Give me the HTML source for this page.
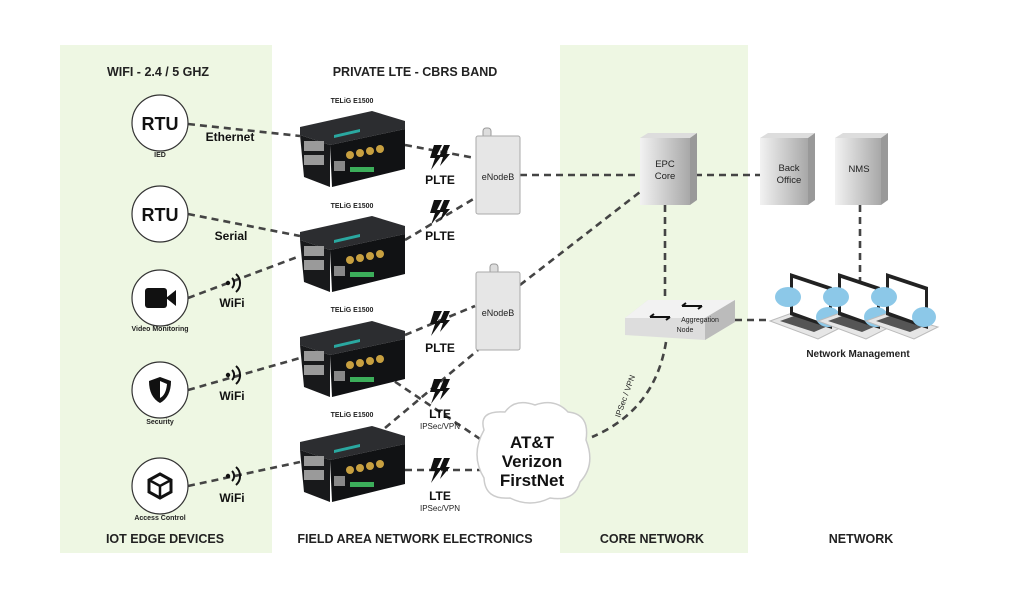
<!DOCTYPE html>
<html><head><meta charset="utf-8"><style>
body{margin:0;background:#fff}
svg{display:block;font-family:"Liberation Sans",sans-serif}
.h{font-size:12.5px;font-weight:bold;fill:#222;text-anchor:middle}
.s{font-size:7px;fill:#222;text-anchor:middle;font-weight:bold}
.l{font-size:12px;font-weight:bold;fill:#111;text-anchor:middle}
.d{stroke:#444;stroke-width:2.6;stroke-dasharray:7 5;fill:none}
</style></head><body>
<svg width="1024" height="606" viewBox="0 0 1024 606">
<defs>
<linearGradient id="srv" x1="0" x2="1"><stop offset="0" stop-color="#f2f2f2"/><stop offset="1" stop-color="#a8a8a8"/></linearGradient>
<g id="router">
<polygon points="0,22 72,6 105,16 105,24 30,40 0,30" fill="#2c2d30"/>
<polygon points="0,30 30,40 30,82 4,72" fill="#18191b"/>
<polygon points="30,40 105,24 105,64 32,82" fill="#111214"/>
<rect x="4" y="36" width="20" height="10" fill="#9a9a9a"/><rect x="4" y="50" width="20" height="10" fill="#9a9a9a"/>
<rect x="34" y="56" width="11" height="10" fill="#888"/>
<circle cx="50" cy="50" r="4" fill="#c8a040"/><circle cx="60" cy="48" r="4" fill="#c8a040"/><circle cx="70" cy="46" r="4" fill="#c8a040"/><circle cx="80" cy="44" r="4" fill="#c8a040"/>
<rect x="50" y="62" width="24" height="5" fill="#3cae5a"/>
<polygon points="34,30 60,24 60,27 34,33" fill="#2aa8a0"/>
</g>
<g id="bolt"><polygon points="-4,-12 4,-12 -1,-2 4,-2 -7,13 -3,1 -8,1" fill="#111"/><polygon points="6,-12 12,-12 8,-3 12,-3 2,9 5,0 1,0" fill="#111"/></g>
<g id="wifi"><circle cx="0" cy="0" r="2.2" fill="#111"/><path d="M4,-5 A7,7 0 0 1 4,5" stroke="#111" stroke-width="2" fill="none"/><path d="M8,-9 A12,12 0 0 1 8,9" stroke="#111" stroke-width="2" fill="none"/></g>
<g id="laptop">
<polygon points="0,48 22,40 72,54 48,66" fill="#e6e6e6" stroke="#bbb"/>
<polygon points="10,48 24,43 58,53 44,59" fill="#555"/>
<polygon points="20,0 62,14 62,56 20,42" fill="#222"/>
<polygon points="23,5 59,17 59,52 23,39" fill="#fff"/>
<ellipse cx="18" cy="24" rx="13" ry="10" fill="#8cc8e8"/><ellipse cx="58" cy="44" rx="12" ry="10" fill="#8cc8e8"/>
</g>
</defs>
<rect x="60" y="45" width="212" height="508" fill="#eef7e3"/>
<rect x="560" y="45" width="188" height="508" fill="#eef7e3"/>

<line class="d" x1="188" y1="124" x2="300" y2="136"/>
<line class="d" x1="188" y1="214" x2="300" y2="236"/>
<line class="d" x1="188" y1="298" x2="300" y2="256"/>
<line class="d" x1="188" y1="390" x2="300" y2="358"/>
<line class="d" x1="188" y1="486" x2="300" y2="462"/>
<line class="d" x1="405" y1="145" x2="475" y2="158"/>
<line class="d" x1="405" y1="240" x2="475" y2="198"/>
<line class="d" x1="405" y1="335" x2="475" y2="306"/>
<line class="d" x1="385" y1="375" x2="492" y2="447"/>
<line class="d" x1="385" y1="428" x2="478" y2="350"/>
<line class="d" x1="405" y1="470" x2="480" y2="470"/>
<line class="d" x1="520" y1="175" x2="640" y2="175"/>
<line class="d" x1="520" y1="285" x2="640" y2="192"/>
<line class="d" x1="695" y1="175" x2="760" y2="175"/>
<line class="d" x1="665" y1="205" x2="665" y2="300"/>
<line class="d" x1="860" y1="205" x2="860" y2="288"/>
<line class="d" x1="735" y1="320" x2="770" y2="320"/>
<path class="d" d="M666,342 Q655,410 592,437"/>

<text class="h" x="158" y="76">WIFI - 2.4 / 5 GHZ</text>
<text class="h" x="415" y="76">PRIVATE LTE - CBRS BAND</text>
<text class="h" x="165" y="543">IOT EDGE DEVICES</text>
<text class="h" x="415" y="543">FIELD AREA NETWORK ELECTRONICS</text>
<text class="h" x="652" y="543">CORE NETWORK</text>
<text class="h" x="861" y="543">NETWORK</text>

<g fill="#fff" stroke="#333" stroke-width="1.2">
<circle cx="160" cy="123" r="28"/><circle cx="160" cy="214" r="28"/><circle cx="160" cy="298" r="28"/><circle cx="160" cy="390" r="28"/><circle cx="160" cy="486" r="28"/>
</g>
<text x="160" y="130" font-size="18" font-weight="bold" text-anchor="middle" fill="#111">RTU</text>
<text x="160" y="221" font-size="18" font-weight="bold" text-anchor="middle" fill="#111">RTU</text>
<text class="s" x="160" y="157">IED</text>
<text class="s" x="160" y="331">Video Monitoring</text>
<text class="s" x="160" y="424">Security</text>
<text class="s" x="160" y="520">Access Control</text>
<rect x="145" y="288" width="22" height="20" rx="3" fill="#111"/><polygon points="166,298 176,290 176,306" fill="#111"/>
<path d="M160,377 L171,381 Q171,397 160,403 Q149,397 149,381 Z" fill="#111"/><path d="M160,381 L167,384 Q166,395 160,398 Z" fill="#fff"/>
<path d="M160,474 L171,480 L171,492 L160,498 L149,492 L149,480 Z" fill="none" stroke="#111" stroke-width="3"/><path d="M149,480 L160,486 L171,480 M160,486 L160,498" stroke="#111" stroke-width="2.5" fill="none"/>

<text class="l" x="230" y="141">Ethernet</text>
<text class="l" x="231" y="240">Serial</text>
<use href="#wifi" x="228" y="283"/><text class="l" x="232" y="307" font-size="13">WiFi</text>
<use href="#wifi" x="228" y="375"/><text class="l" x="232" y="400" font-size="13">WiFi</text>
<use href="#wifi" x="228" y="476"/><text class="l" x="232" y="502" font-size="13">WiFi</text>

<text class="s" x="352" y="103">TELiG E1500</text>
<text class="s" x="352" y="208">TELiG E1500</text>
<text class="s" x="352" y="312">TELiG E1500</text>
<text class="s" x="352" y="417">TELiG E1500</text>
<use href="#router" x="300" y="105"/>
<use href="#router" x="300" y="210"/>
<use href="#router" x="300" y="315"/>
<use href="#router" x="300" y="420"/>

<use href="#bolt" x="438" y="157"/><text class="l" x="440" y="184">PLTE</text>
<use href="#bolt" x="438" y="212"/><text class="l" x="440" y="240">PLTE</text>
<use href="#bolt" x="438" y="323"/><text class="l" x="440" y="352">PLTE</text>
<use href="#bolt" x="438" y="391"/><text class="l" x="440" y="418">LTE</text><text x="440" y="429" font-size="8" text-anchor="middle" fill="#222">IPSec/VPN</text>
<use href="#bolt" x="438" y="470"/><text class="l" x="440" y="500">LTE</text><text x="440" y="511" font-size="8" text-anchor="middle" fill="#222">IPSec/VPN</text>

<g><rect x="483" y="128" width="8" height="10" rx="3" fill="#ddd" stroke="#999"/><rect x="476" y="136" width="44" height="78" rx="2" fill="#e6e6e6" stroke="#aaa"/><text x="498" y="180" font-size="9" text-anchor="middle" fill="#222">eNodeB</text></g>
<g><rect x="490" y="264" width="8" height="10" rx="3" fill="#ddd" stroke="#999"/><rect x="476" y="272" width="44" height="78" rx="2" fill="#e6e6e6" stroke="#aaa"/><text x="498" y="316" font-size="9" text-anchor="middle" fill="#222">eNodeB</text></g>

<path d="M484,430 Q478,410 505,412 Q515,398 535,405 Q555,398 568,412 Q590,414 586,440 Q596,465 580,482 Q575,502 550,498 Q530,508 510,498 Q485,500 484,478 Q470,455 484,430 Z" fill="#fff" stroke="#ccc" stroke-width="1.5"/>
<text x="532" y="448" font-size="17" font-weight="bold" text-anchor="middle" fill="#111">AT&amp;T</text>
<text x="532" y="467" font-size="17" font-weight="bold" text-anchor="middle" fill="#111">Verizon</text>
<text x="532" y="486" font-size="17" font-weight="bold" text-anchor="middle" fill="#111">FirstNet</text>

<g><polygon points="640,138 648,133 697,133 690,138" fill="#ddd"/><polygon points="690,138 697,133 697,200 690,205" fill="#999"/><rect x="640" y="138" width="50" height="67" fill="url(#srv)"/>
<text x="665" y="167" font-size="9.5" text-anchor="middle" fill="#222">EPC</text><text x="665" y="179" font-size="9.5" text-anchor="middle" fill="#222">Core</text></g>
<g><polygon points="760,138 768,133 815,133 808,138" fill="#ddd"/><polygon points="808,138 815,133 815,200 808,205" fill="#999"/><rect x="760" y="138" width="48" height="67" fill="url(#srv)"/>
<text x="789" y="171" font-size="9.5" text-anchor="middle" fill="#222">Back</text><text x="789" y="183" font-size="9.5" text-anchor="middle" fill="#222">Office</text></g>
<g><polygon points="835,138 843,133 888,133 881,138" fill="#ddd"/><polygon points="881,138 888,133 888,200 881,205" fill="#999"/><rect x="835" y="138" width="46" height="67" fill="url(#srv)"/>
<text x="859" y="172" font-size="9.5" text-anchor="middle" fill="#222">NMS</text></g>

<polygon points="625,318 648,300 735,300 735,322 705,340 625,335" fill="#ddd"/>
<polygon points="625,318 648,300 735,300 705,318" fill="#f2f2f2"/>
<polygon points="705,318 735,300 735,322 705,340" fill="#bbb"/>
<path d="M650,317 h20 M650,317 l4,-3 M670,317 l-4,3 M682,306 h20 M682,306 l4,-3 M702,306 l-4,3" stroke="#111" stroke-width="2" fill="none"/>
<text x="700" y="322" font-size="7" text-anchor="middle" fill="#222">Aggregation</text>
<text x="685" y="332" font-size="7" text-anchor="middle" fill="#222">Node</text>
<text x="620" y="418" font-size="8" fill="#222" transform="rotate(-70 620 418)">IPSec / VPN</text>

<use href="#laptop" x="770" y="273"/>
<use href="#laptop" x="818" y="273"/>
<use href="#laptop" x="866" y="273"/>
<text x="858" y="357" font-size="10" font-weight="bold" text-anchor="middle" fill="#222">Network Management</text>
</svg>
</body></html>
